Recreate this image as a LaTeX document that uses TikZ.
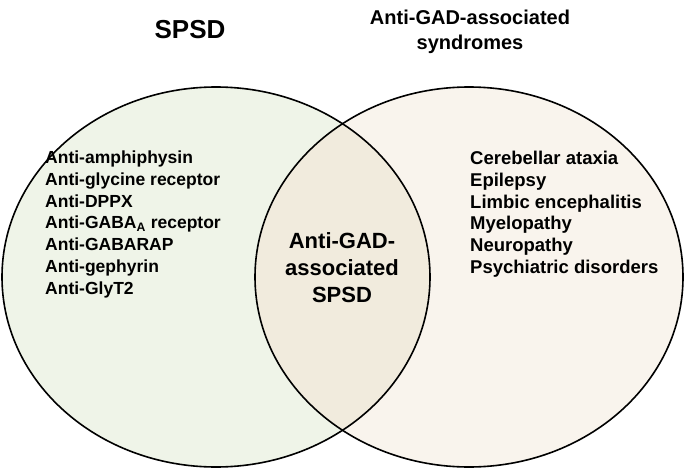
\documentclass[tikz,border=0pt]{standalone}
\usepackage{fontspec}
\setmainfont{Liberation Sans}
\begin{document}
\begin{tikzpicture}[x=1pt,y=-1pt,
  lst/.style={anchor=north west,align=left,font=\bfseries\fontsize{17.5}{21.7}\selectfont,inner sep=0pt},
  hd/.style={align=center,font=\bfseries\fontsize{26}{28}\selectfont,inner sep=0pt},
  circ/.style={draw=black,line width=1.6pt}]
\useasboundingbox (0,0) rectangle (685,468);
\fill[fill={rgb,255:red,239;green,244;blue,232}] (216,277) ellipse [x radius=214,y radius=190];
\fill[fill={rgb,255:red,249;green,244;blue,237}] (469,277) ellipse [x radius=214,y radius=190];
\begin{scope}
\clip (216,277) ellipse [x radius=214,y radius=190];
\fill[fill={rgb,255:red,241;green,235;blue,221}] (469,277) ellipse [x radius=214,y radius=190];
\end{scope}
\draw[circ] (216,277) ellipse [x radius=214,y radius=190];
\draw[circ] (469,277) ellipse [x radius=214,y radius=190];
\node[hd] (h1) at (190,30) {SPSD};
\node[hd,font=\bfseries\fontsize{20}{25}\selectfont] (h2) at (470,32) {Anti-GAD-associated\\syndromes};
\node[lst] (l1) at (45,151) {Anti-amphiphysin\\Anti-glycine receptor\\Anti-DPPX\\Anti-GABA\textsubscript{A} receptor\\Anti-GABARAP\\Anti-gephyrin\\Anti-GlyT2};
\node[lst,font=\bfseries\fontsize{18.5}{21.7}\selectfont] (l2) at (470,151) {Cerebellar ataxia\\Epilepsy\\Limbic encephalitis\\Myelopathy\\Neuropathy\\Psychiatric disorders};
\node[hd,font=\bfseries\fontsize{22}{27}\selectfont] (c) at (342,268) {Anti-GAD-\\associated\\SPSD};
\end{tikzpicture}
\end{document}
